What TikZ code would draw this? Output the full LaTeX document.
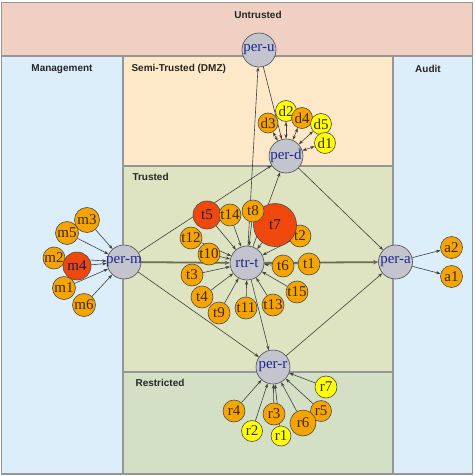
\documentclass[tikz,border=0pt]{standalone}
\usepackage{fontspec}
\setmainfont{Liberation Serif}
\newfontfamily\regfont{Liberation Sans}
\usetikzlibrary{arrows.meta}
\pgfdeclarelayer{regions}
\pgfdeclarelayer{edges}
\pgfsetlayers{regions,edges,main}
\definecolor{untr}{RGB}{240,208,194}
\definecolor{mgmt}{RGB}{220,238,250}
\definecolor{dmz}{RGB}{253,233,200}
\definecolor{trus}{RGB}{222,227,194}
\definecolor{rest}{RGB}{212,224,198}
\definecolor{framec}{RGB}{150,150,150}
\definecolor{grayn}{RGB}{196,196,206}
\definecolor{orn}{RGB}{246,164,0}
\definecolor{redn}{RGB}{240,72,12}
\definecolor{yel}{RGB}{255,255,0}
\definecolor{nblue}{RGB}{30,40,140}
\definecolor{nbrown}{RGB}{60,40,30}
\definecolor{thickc}{RGB}{105,110,80}
\tikzset{
  hub/.style={circle, draw=black!70, line width=0.6pt, fill=grayn, minimum size=34pt, inner sep=-1.5pt, font=\fontsize{15}{15}\selectfont, text=nblue},
  leaf/.style={circle, draw=black!70, line width=0.6pt, fill=orn, minimum size=22pt, inner sep=0pt, font=\fontsize{15}{15}\selectfont, text=nbrown},
  hot/.style={leaf, fill=redn, text=nblue!70!black},
  yleaf/.style={leaf, fill=yel},
  conn/.style={draw=black!75, line width=0.6pt, -{Stealth[length=4.5pt,width=3.2pt]}},
  biconn/.style={draw=black!75, line width=0.6pt, {Stealth[length=4.5pt,width=3.2pt]}-{Stealth[length=4.5pt,width=3.2pt]}},
  thickconn/.style={draw=thickc, line width=1.8pt, -{Stealth[length=5pt,width=4.5pt]}},
  region/.style={draw=framec, line width=1.2pt},
  reglabel/.style={font=\regfont\bfseries\fontsize{10}{10}\selectfont, text=black!85}
}
\begin{document}
\begin{tikzpicture}[x=1pt,y=-1pt]
\useasboundingbox (0,0) rectangle (474,476);
\begin{pgfonlayer}{regions}
  \fill[white] (0,0) rectangle (474,476);
  \path[region, fill=untr] (1.5,2.5) rectangle (472.5,56);
  \path[region, fill=mgmt] (1.5,56) rectangle (123,474);
  \path[region, fill=dmz] (123,56) rectangle (393,166);
  \path[region, fill=trus] (123,166) rectangle (393,372);
  \path[region, fill=rest] (123,372) rectangle (393,474);
  \path[region, fill=mgmt] (393,56) rectangle (472.5,474);
  \node[reglabel] (lu) at (258,15) {Untrusted};
  \node[reglabel] (lm) at (62,69) {Management};
  \node[reglabel, anchor=west] (ld) at (128,69) {Semi-Trusted (DMZ)};
  \node[reglabel] (la) at (428,69) {Audit};
  \node[reglabel, anchor=west] (lt) at (129,177) {Trusted};
  \node[reglabel, anchor=west] (lr) at (132,383) {Restricted};
\end{pgfonlayer}

% hubs
\node[hub] (peru) at (259,50) {per-u};
\node[hub] (perd) at (286,156) {per-d};
\node[hub] (perm) at (124,262) {per-m};
\node[hub] (rtrt) at (247,263) {rtr-t};
\node[hub] (pera) at (395.5,262) {per-a};
\node[hub] (perr) at (273,367) {per-r};

% management
\node[leaf, minimum size=25pt] (m3) at (87,220) {m3};
\node[leaf, minimum size=23pt] (m5) at (67,233) {m5};
\node[leaf] (m2) at (54,258) {m2};
\node[hot, minimum size=28pt] (m4) at (77,266) {m4};
\node[leaf, minimum size=23pt] (m1) at (64,288) {m1};
\node[leaf, minimum size=23pt] (m6) at (84,305) {m6};

% trusted
\node[leaf] (t2) at (300,236) {t2};
\node[hot, minimum size=43pt] (t7) at (275,225) {t7};
\node[hot, minimum size=28pt] (t5) at (207,215) {t5};
\node[leaf] (t14) at (230,215) {t14};
\node[leaf] (t8) at (253,211) {t8};
\node[leaf] (t12) at (191,238) {t12};
\node[leaf] (t10) at (209,254) {t10};
\node[leaf] (t3) at (192,275) {t3};
\node[leaf] (t6) at (283,266) {t6};
\node[leaf] (t1) at (309,264) {t1};
\node[leaf] (t15) at (297,292) {t15};
\node[leaf] (t4) at (202,297) {t4};
\node[leaf] (t9) at (219,313) {t9};
\node[leaf] (t11) at (246,308) {t11};
\node[leaf] (t13) at (273,305) {t13};

% dmz
\node[leaf, minimum size=20pt] (d3) at (268,123) {d3};
\node[yleaf, minimum size=21pt] (d2) at (286,111) {d2};
\node[leaf, minimum size=21pt] (d4) at (302,118) {d4};
\node[yleaf, minimum size=21pt] (d5) at (321,124) {d5};
\node[yleaf, minimum size=21pt] (d1) at (325,143) {d1};

% audit
\node[leaf] (a2) at (451.5,247.5) {a2};
\node[leaf] (a1) at (451.5,276.5) {a1};

% restricted
\node[yleaf] (r7) at (326,387) {r7};
\node[leaf] (r4) at (234,411) {r4};
\node[leaf] (r3) at (274,414) {r3};
\node[leaf, minimum size=21pt] (r5) at (321,411) {r5};
\node[leaf, minimum size=26pt] (r6) at (303,423) {r6};
\node[yleaf, minimum size=21pt] (r2) at (252,431) {r2};
\node[yleaf, minimum size=20pt] (r1) at (281,436) {r1};

\begin{pgfonlayer}{edges}
  \foreach \m in {m1,m2,m3,m4,m5,m6} \draw[conn] (\m) -- (perm);
  \draw[thickconn] (perm) -- (rtrt);
  \draw[conn] (perm) -- (perd);
  \draw[conn] (perm) -- (perr);
  \foreach \t in {t1,t2,t3,t4,t5,t6,t7,t8,t9,t10,t11,t12,t13,t14,t15} \draw[conn] (\t) -- (rtrt);
  \draw[thickconn] (rtrt) -- (pera);
  \draw[conn] (rtrt) -- (perd);
  \draw[conn] (rtrt) -- (peru);
  \draw[conn] (rtrt) -- (perr);
  \draw[conn] (peru) -- (perd);
  \foreach \d in {d1,d2,d3,d4,d5} \draw[biconn] (\d) -- (perd);
  \draw[conn] (perd) -- (pera);
  \draw[conn] (perr) -- (pera);
  \draw[conn] (pera) -- (a1);
  \draw[conn] (pera) -- (a2);
  \foreach \r in {r1,r2,r3,r4,r5,r6,r7} \draw[conn] (\r) -- (perr);
\end{pgfonlayer}
\end{tikzpicture}
\end{document}
